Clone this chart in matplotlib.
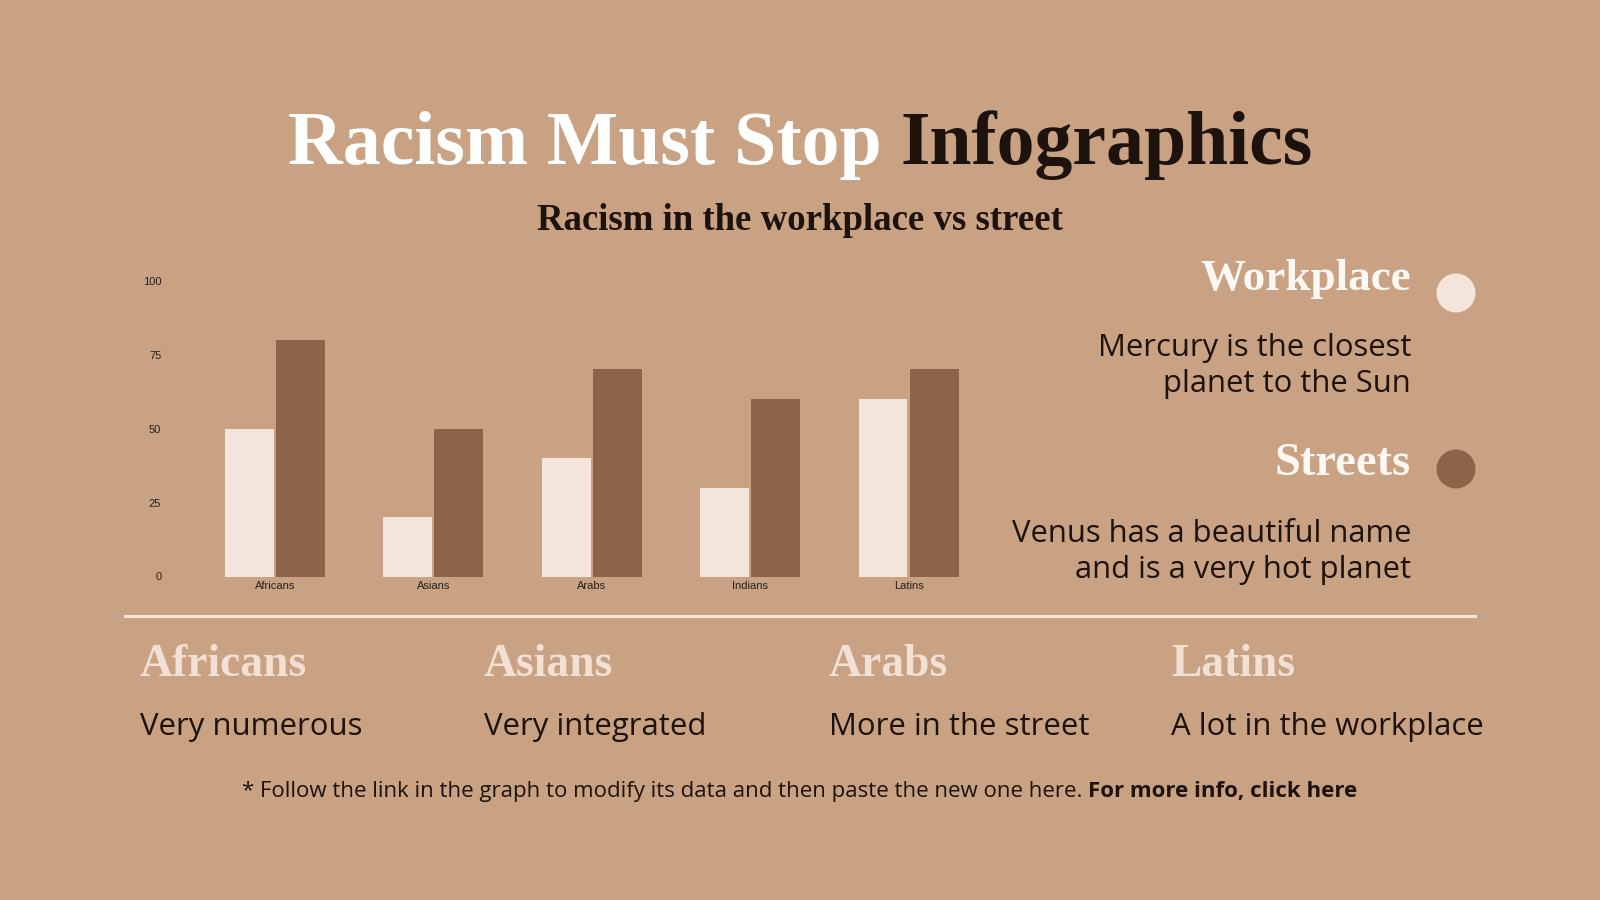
import matplotlib
matplotlib.use("Agg")
import matplotlib.pyplot as plt
import numpy as np
from matplotlib.patches import Ellipse

categories = ["Africans", "Asians", "Arabs", "Indians", "Latins"]
workplace = [50, 20, 40, 30, 60]
streets = [80, 50, 70, 60, 70]
yticks = [0, 25, 50, 75, 100]

bottom_titles = ["Africans", "Asians", "Arabs", "Latins"]
bottom_texts = ["Very numerous", "Very integrated", "More in the street", "A lot in the workplace"]

BG = "#C9A283"
LIGHT = "#F3E5DB"
DARK = "#8C6447"
INK = "#1E120C"
SERIF = "Liberation Serif"
SANS = "Open Sans"

W, H = 1600, 900
fig = plt.figure(figsize=(16, 9), dpi=100)
fig.patch.set_facecolor(BG)

def fx(px):
    return px / W

def fy(py):
    return 1 - py / H

# Title
t1 = fig.text(fx(800), fy(145), "Racism Must Stop ", color="white", fontsize=54.5,
              fontfamily=SERIF, fontweight="bold", ha="right", va="center")
fig.canvas.draw()
r = fig.canvas.get_renderer()
bb1 = t1.get_window_extent(r)
t2 = fig.text(fx(800), fy(145), "Infographics", color=INK, fontsize=54.5,
              fontfamily=SERIF, fontweight="bold", ha="left", va="center")
bb2 = t2.get_window_extent(r)
total = bb1.width + bb2.width
shift = (800 - total / 2) + bb1.width
t1.set_x(fx(shift))
t2.set_x(fx(shift))

fig.text(fx(800), fy(221), "Racism in the workplace vs street", color=INK, fontsize=26.5,
         fontfamily=SERIF, fontweight="bold", ha="center", va="center")

# Chart axes
x_left, x_right = 196, 988
y_top, y_bot = 280.6, 576.5
ax = fig.add_axes([fx(x_left), fy(y_bot), fx(x_right - x_left), (y_bot - y_top) / H])
ax.set_facecolor("none")
x = np.arange(len(categories))
bw = 0.309
ax.bar(x - 0.163, workplace, width=bw, color=LIGHT)
ax.bar(x + 0.160, streets, width=bw, color=DARK)
ax.set_xlim(-0.5, len(categories) - 0.5)
ax.set_ylim(0, 100)
ax.set_yticks(yticks)
ax.set_yticklabels([str(v) for v in yticks])
ax.set_xticks(x)
ax.set_xticklabels(categories)
for s in ax.spines.values():
    s.set_visible(False)
ax.tick_params(axis="y", length=0, pad=25, labelsize=8, labelcolor="#222222")
ax.tick_params(axis="x", length=0, pad=3, labelsize=8, labelcolor="#222222")
for lab in ax.get_xticklabels() + ax.get_yticklabels():
    lab.set_fontfamily("Liberation Sans")

# Right legend block
RX = 1411
fig.text(fx(RX), fy(279), "Workplace", color="#FFF8F2", fontsize=32.5, fontfamily=SERIF,
         fontweight="bold", ha="right", va="center")
fig.text(fx(RX), fy(366), "Mercury is the closest\nplanet to the Sun", color=INK, fontsize=22.3,
         fontfamily=SANS, ha="right", va="center", linespacing=1.29)
fig.text(fx(RX), fy(464), "Streets", color="#FFF8F2", fontsize=33.5, fontfamily=SERIF,
         fontweight="bold", ha="right", va="center")
fig.text(fx(RX), fy(552), "Venus has a beautiful name\nand is a very hot planet", color=INK, fontsize=22.3,
         fontfamily=SANS, ha="right", va="center", linespacing=1.29)

fig.patches.append(Ellipse((fx(1456), fy(293)), 39 / W, 39 / H, transform=fig.transFigure,
                           facecolor=LIGHT, edgecolor="none"))
fig.patches.append(Ellipse((fx(1456), fy(469)), 39 / W, 39 / H, transform=fig.transFigure,
                           facecolor=DARK, edgecolor="none"))

# Divider line
fig.add_artist(plt.Line2D([fx(125.5), fx(1474.5)], [fy(616), fy(616)], color="#F5E6DC",
                          linewidth=2.2, transform=fig.transFigure))

# Bottom columns
col_x = [140, 483.7, 828.6, 1171.4]
for cx, tt, tx in zip(col_x, bottom_titles, bottom_texts):
    fig.text(fx(cx), fy(665), tt, color="#F3E0D4", fontsize=32.8, fontfamily=SERIF,
             fontweight="bold", ha="left", va="center")
    fig.text(fx(cx), fy(735), tx, color=INK, fontsize=22.4, fontfamily=SANS,
             ha="left", va="baseline")

# Footer
f1 = fig.text(0, fy(797), "* Follow the link in the graph to modify its data and then paste the new one here. ",
              color=INK, fontsize=16, fontfamily=SANS, ha="left", va="baseline")
f2 = fig.text(0, fy(797), "For more info, click here", color=INK, fontsize=16, fontfamily=SANS,
              fontweight="bold", ha="left", va="baseline")
fig.canvas.draw()
r = fig.canvas.get_renderer()
w1 = f1.get_window_extent(r).width
w2 = f2.get_window_extent(r).width
start = 800 - (w1 + w2) / 2
f1.set_x(fx(start))
f2.set_x(fx(start + w1))

fig.savefig("out.png", dpi=100, facecolor=BG)
